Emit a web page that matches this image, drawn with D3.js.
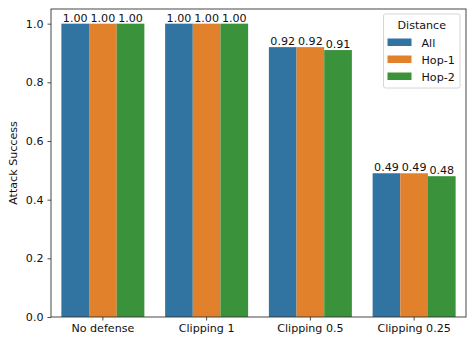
<!DOCTYPE html>
<html>
<head>
<meta charset="utf-8">
<script src="https://cdn.jsdelivr.net/npm/d3@7/dist/d3.min.js"></script>
<style>
  body { margin: 0; background: #fff; }
  svg { display: block; font-family: "DejaVu Sans", sans-serif; }
</style>
</head>
<body>
<svg id="chart" width="474" height="345"></svg>
<script>
// Attack success rate per defense setting, split by hop distance
const categories = ["No defense", "Clipping 1", "Clipping 0.5", "Clipping 0.25"];
const seriesNames = ["All", "Hop-1", "Hop-2"];
const valuesAll  = [1.00, 1.00, 0.92, 0.49];
const valuesHop1 = [1.00, 1.00, 0.92, 0.49];
const valuesHop2 = [1.00, 1.00, 0.91, 0.48];
const yTicks = [0.0, 0.2, 0.4, 0.6, 0.8, 1.0];
const colors = ["#3274a1", "#e1812c", "#3a923a"];

const seriesValues = [valuesAll, valuesHop1, valuesHop2];
const FS = 11.1;

const svg = d3.select("#chart");
const margin = { left: 51, right: 8, top: 9, bottom: 28 };
const W = 474, H = 345;
const x0 = margin.left, x1 = W - margin.right;
const y0 = H - margin.bottom, y1 = margin.top;

const x = d3.scaleBand().domain(categories).range([x0, x1]).paddingInner(0.2).paddingOuter(0.1);
const xSub = d3.scaleBand().domain(seriesNames).range([0, x.bandwidth()]);
const y = d3.scaleLinear().domain([0, 1.05]).range([y0, y1]);

// bars
const groups = svg.append("g").selectAll("g")
  .data(categories).join("g")
  .attr("transform", d => `translate(${x(d)},0)`);

groups.selectAll("rect")
  .data((c, i) => seriesNames.map((s, j) => ({ s, j, v: seriesValues[j][i] })))
  .join("rect")
  .attr("x", d => xSub(d.s))
  .attr("width", xSub.bandwidth())
  .attr("y", d => y(d.v))
  .attr("height", d => y(0) - y(d.v))
  .attr("fill", d => colors[d.j]);

// value labels
groups.selectAll("text")
  .data((c, i) => seriesNames.map((s, j) => ({ s, j, v: seriesValues[j][i] })))
  .join("text")
  .attr("x", d => xSub(d.s) + xSub.bandwidth() / 2)
  .attr("y", d => y(d.v) - 2)
  .attr("text-anchor", "middle")
  .attr("font-size", FS)
  .attr("fill", "#111")
  .text(d => d.v.toFixed(2));

// axes
const xAxis = d3.axisBottom(x).tickSize(3.5).tickPadding(4);
const yAxis = d3.axisLeft(y).tickValues(yTicks).tickFormat(d3.format(".1f")).tickSize(3.5).tickPadding(4);

const gx = svg.append("g").attr("transform", `translate(0,${y0})`).call(xAxis);
const gy = svg.append("g").attr("transform", `translate(${x0},0)`).call(yAxis);
[gx, gy].forEach(g => {
  g.select(".domain").remove();
  g.selectAll("text").attr("font-size", FS).attr("fill", "#111").attr("font-family", "DejaVu Sans, sans-serif");
  g.selectAll("line").attr("stroke", "#222").attr("stroke-width", 0.8);
});

// frame
svg.append("rect")
  .attr("x", x0).attr("y", y1)
  .attr("width", x1 - x0).attr("height", y0 - y1)
  .attr("fill", "none").attr("stroke", "#333").attr("stroke-width", 0.9);

// y label
svg.append("text")
  .attr("transform", `translate(17,${(y0 + y1) / 2}) rotate(-90)`)
  .attr("text-anchor", "middle")
  .attr("font-size", FS)
  .attr("fill", "#111")
  .text("Attack Success");

// legend
const lg = svg.append("g").attr("transform", "translate(383.5,14)");
lg.append("rect")
  .attr("width", 76.5).attr("height", 74).attr("rx", 2)
  .attr("fill", "#fff").attr("fill-opacity", 0.8)
  .attr("stroke", "#ccc").attr("stroke-width", 0.8);
lg.append("text")
  .attr("x", 38.3).attr("y", 15)
  .attr("text-anchor", "middle")
  .attr("font-size", FS).attr("fill", "#111")
  .text("Distance");
const items = lg.selectAll("g.item").data(seriesNames).join("g")
  .attr("class", "item")
  .attr("transform", (d, i) => `translate(4,${24 + i * 17})`);
items.append("rect")
  .attr("width", 24).attr("height", 7.5)
  .attr("y", 0.5)
  .attr("fill", (d, i) => colors[i]);
items.append("text")
  .attr("x", 34).attr("y", 8.5)
  .attr("font-size", FS).attr("fill", "#111")
  .text(d => d);
</script>
</body>
</html>
